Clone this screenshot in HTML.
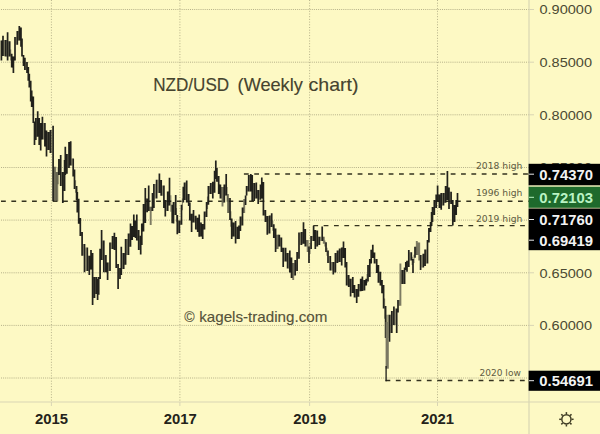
<!DOCTYPE html>
<html lang="en"><head><meta charset="utf-8"><title>NZD/USD (Weekly chart)</title>
<style>html,body{margin:0;padding:0;background:#fdf9c4;}body{width:600px;height:434px;overflow:hidden}</style>
</head><body>
<svg width="600" height="434" viewBox="0 0 600 434" style="display:block"><rect width="600" height="434" fill="#fdf9c4"/><line x1="1" x2="529" y1="9.5" y2="9.5" stroke="#b5b189" stroke-width="1" stroke-dasharray="1 1.1"/><line x1="1" x2="529" y1="62.2" y2="62.2" stroke="#b5b189" stroke-width="1" stroke-dasharray="1 1.1"/><line x1="1" x2="529" y1="114.8" y2="114.8" stroke="#b5b189" stroke-width="1" stroke-dasharray="1 1.1"/><line x1="1" x2="529" y1="167.5" y2="167.5" stroke="#b5b189" stroke-width="1" stroke-dasharray="1 1.1"/><line x1="1" x2="529" y1="220.1" y2="220.1" stroke="#b5b189" stroke-width="1" stroke-dasharray="1 1.1"/><line x1="1" x2="529" y1="272.8" y2="272.8" stroke="#b5b189" stroke-width="1" stroke-dasharray="1 1.1"/><line x1="1" x2="529" y1="325.4" y2="325.4" stroke="#b5b189" stroke-width="1" stroke-dasharray="1 1.1"/><line x1="1" x2="529" y1="378.0" y2="378.0" stroke="#b5b189" stroke-width="1" stroke-dasharray="1 1.1"/><line x1="51.4" x2="51.4" y1="0" y2="402" stroke="#b5b189" stroke-width="1" stroke-dasharray="1 1.7"/><line x1="179.9" x2="179.9" y1="0" y2="402" stroke="#b5b189" stroke-width="1" stroke-dasharray="1 1.7"/><line x1="309.6" x2="309.6" y1="0" y2="402" stroke="#b5b189" stroke-width="1" stroke-dasharray="1 1.7"/><line x1="437.5" x2="437.5" y1="0" y2="402" stroke="#b5b189" stroke-width="1" stroke-dasharray="1 1.7"/><line x1="529" x2="529" y1="0" y2="434" stroke="#d9d5b4" stroke-width="1.2"/><line x1="0" x2="600" y1="402" y2="402" stroke="#d9d5b4" stroke-width="1.2"/><line x1="529" x2="534" y1="9.5" y2="9.5" stroke="#d9d5b4" stroke-width="1"/><line x1="529" x2="534" y1="62.2" y2="62.2" stroke="#d9d5b4" stroke-width="1"/><line x1="529" x2="534" y1="114.8" y2="114.8" stroke="#d9d5b4" stroke-width="1"/><line x1="529" x2="534" y1="167.5" y2="167.5" stroke="#d9d5b4" stroke-width="1"/><line x1="529" x2="534" y1="220.1" y2="220.1" stroke="#d9d5b4" stroke-width="1"/><line x1="529" x2="534" y1="272.8" y2="272.8" stroke="#d9d5b4" stroke-width="1"/><line x1="529" x2="534" y1="325.4" y2="325.4" stroke="#d9d5b4" stroke-width="1"/><line x1="529" x2="534" y1="378.0" y2="378.0" stroke="#d9d5b4" stroke-width="1"/><line x1="51.4" x2="51.4" y1="402" y2="406" stroke="#d9d5b4" stroke-width="1"/><line x1="179.9" x2="179.9" y1="402" y2="406" stroke="#d9d5b4" stroke-width="1"/><line x1="309.6" x2="309.6" y1="402" y2="406" stroke="#d9d5b4" stroke-width="1"/><line x1="437.5" x2="437.5" y1="402" y2="406" stroke="#d9d5b4" stroke-width="1"/><path d="M1.00 201.3H5.80M11.34 201.3H16.14M21.68 201.3H26.48M32.02 201.3H36.82M42.36 201.3H47.16M52.70 201.3H57.50M63.04 201.3H67.84M73.38 201.3H78.18M83.72 201.3H88.52M94.06 201.3H98.86M104.40 201.3H109.20M114.74 201.3H119.54M125.08 201.3H129.88M135.42 201.3H140.22M145.76 201.3H150.56M156.10 201.3H160.90M166.44 201.3H171.24M176.78 201.3H181.58M187.12 201.3H191.92M197.46 201.3H202.26M207.80 201.3H212.60M218.14 201.3H222.94M228.48 201.3H233.28M238.82 201.3H243.62M249.16 201.3H253.96M259.50 201.3H264.30M269.84 201.3H274.64M280.18 201.3H284.98M290.52 201.3H295.32M300.86 201.3H305.66M311.20 201.3H316.00M321.54 201.3H326.34M331.88 201.3H336.68M342.22 201.3H347.02M352.56 201.3H357.36M362.90 201.3H367.70M373.24 201.3H378.04M383.58 201.3H388.38M393.92 201.3H398.72M404.26 201.3H409.06M414.60 201.3H419.40M424.94 201.3H429.74M435.28 201.3H440.08M445.62 201.3H450.42M455.96 201.3H460.76M466.30 201.3H471.10M476.64 201.3H481.44M486.98 201.3H491.78M497.32 201.3H502.12M507.66 201.3H512.46M518.00 201.3H522.80M528.34 201.3H529.00" stroke="#34331f" stroke-width="1.45" fill="none"/><path d="M243.90 174.0H248.70M254.24 174.0H259.04M264.58 174.0H269.38M274.92 174.0H279.72M285.26 174.0H290.06M295.60 174.0H300.40M305.94 174.0H310.74M316.28 174.0H321.08M326.62 174.0H331.42M336.96 174.0H341.76M347.30 174.0H352.10M357.64 174.0H362.44M367.98 174.0H372.78M378.32 174.0H383.12M388.66 174.0H393.46M399.00 174.0H403.80M409.34 174.0H414.14M419.68 174.0H424.48M430.02 174.0H434.82M440.36 174.0H445.16M450.70 174.0H455.50M461.04 174.0H465.84M471.38 174.0H476.18M481.72 174.0H486.52M492.06 174.0H496.86M502.40 174.0H507.20M512.74 174.0H517.54M523.08 174.0H527.88" stroke="#34331f" stroke-width="1.45" fill="none"/><path d="M313.30 225.6H318.10M323.64 225.6H328.44M333.98 225.6H338.78M344.32 225.6H349.12M354.66 225.6H359.46M365.00 225.6H369.80M375.34 225.6H380.14M385.68 225.6H390.48M396.02 225.6H400.82M406.36 225.6H411.16M416.70 225.6H421.50M427.04 225.6H431.84M437.38 225.6H442.18M447.72 225.6H452.52M458.06 225.6H462.86M468.40 225.6H473.20M478.74 225.6H483.54M489.08 225.6H493.88M499.42 225.6H504.22M509.76 225.6H514.56M520.10 225.6H524.90" stroke="#34331f" stroke-width="1.45" fill="none"/><path d="M385.50 380.5H390.30M395.84 380.5H400.64M406.18 380.5H410.98M416.52 380.5H421.32M426.86 380.5H431.66M437.20 380.5H442.00M447.54 380.5H452.34M457.88 380.5H462.68M468.22 380.5H473.02M478.56 380.5H483.36M488.90 380.5H493.70M499.24 380.5H504.04M509.58 380.5H514.38M519.92 380.5H524.72" stroke="#34331f" stroke-width="1.45" fill="none"/><path d="M55.20 166.8V201.3M57.30 172.0V201.3M150.70 206.8V225.0M222.50 187.0V206.6M228.00 194.0V213.0M244.20 199.0V213.0M277.70 234.7V249.0M293.20 263.0V280.0M307.70 240.0V252.0M323.80 236.8V243.7M400.40 263.5V305.7M416.80 241.0V255.0M419.20 242.6V260.6" stroke="#6f6d58" stroke-width="1.9" fill="none" opacity="0.9"/><path d="M2.20 40.6V56.0M4.25 40.0V56.0M6.55 40.0V56.5M8.65 41.3V56.5M10.70 49.4V60.4M12.55 56.5V67.5M14.20 56.5V60.6M16.15 37.0V44.7M18.30 30.9V40.6M20.15 27.4V40.6M25.95 62.0V70.0M32.50 96.6V107.0M36.75 118.0V136.8M41.55 123.0V139.5M43.65 123.0V139.5M45.70 130.6V146.5M47.50 132.0V150.0M49.45 132.0V150.0M51.75 130.0V153.0M54.15 166.8V201.0M56.25 172.0V201.3M58.10 167.4V184.2M59.80 159.0V175.0M61.75 172.0V186.0M63.70 172.0V191.0M66.10 154.0V173.7M67.95 154.0V168.0M69.85 141.9V165.4M71.95 158.5V165.4M75.55 180.2V192.8M79.50 218.0V223.7M81.20 232.0V236.0M83.30 244.0V255.7M85.90 247.4V271.0M88.30 255.7V271.0M90.15 255.7V269.5M91.80 253.0V269.5M93.55 277.0V298.0M95.50 277.0V294.0M102.70 240.5V260.0M104.85 255.0V272.3M106.75 262.6V272.3M108.80 262.6V271.0M111.25 242.6V249.0M113.45 236.0V249.0M115.30 237.0V250.0M117.15 264.0V268.0M119.05 268.0V279.0M122.50 253.0V269.0M124.65 253.0V264.7M126.57 239.0V255.0M127.53 239.0V255.0M129.50 233.5V246.8M131.35 226.0V240.0M133.00 226.0V237.0M134.65 220.6V237.0M137.75 230.0V240.6M139.70 235.7V250.0M142.65 223.5V231.6M144.40 204.0V223.0M146.25 198.5V212.3M149.70 206.8V211.0M151.60 206.8V211.0M155.25 184.0V198.5M158.00 179.8V193.0M160.30 180.0V193.0M162.55 185.4V195.7M166.50 200.0V211.0M168.60 191.6V205.4M170.85 195.3V211.7M174.60 202.0V215.0M176.50 208.0V221.8M178.35 220.6V233.0M180.45 220.6V224.7M182.40 198.4V210.3M185.60 182.6V200.0M187.70 194.0V202.6M190.70 213.7V220.6M192.55 213.7V222.6M194.65 215.7V222.6M196.75 217.8V229.5M200.10 222.6V236.5M201.85 224.0V236.5M203.60 224.0V229.5M205.55 211.6V217.0M207.50 196.4V209.0M209.55 186.0V194.0M211.75 183.0V194.0M213.70 181.8V192.8M217.80 176.0V181.8M219.55 184.5V194.0M221.45 187.0V198.4M223.40 187.0V202.5M225.25 184.5V195.6M227.10 187.0V201.7M229.00 198.0V213.0M230.85 211.3V226.7M232.60 222.6V236.5M234.55 222.6V236.5M236.65 226.8V239.0M241.45 216.4V225.4M243.35 207.4V213.0M247.65 186.0V191.5M249.75 174.9V191.5M253.20 183.0V201.0M255.25 183.0V198.4M257.25 190.0V198.4M259.35 190.0V199.7M262.60 182.0V198.4M264.40 210.0V215.4M266.35 216.0V222.0M268.45 216.0V233.5M270.65 215.5V227.0M272.75 220.5V230.8M274.70 228.5V238.0M276.65 234.7V249.0M278.50 234.7V246.5M280.35 237.5V246.5M282.30 247.8V252.0M284.40 247.8V261.6M286.60 253.0V261.6M288.70 253.0V268.5M290.65 257.4V272.6M292.35 263.0V278.0M294.20 263.0V275.4M296.15 260.0V271.0M298.05 252.0V258.8M300.25 232.6V245.0M302.50 232.0V243.7M304.40 229.0V243.7M306.50 240.0V246.5M310.05 242.8V253.9M312.35 236.0V241.0M314.45 230.0V241.0M316.30 230.6V246.5M318.35 236.8V245.0M320.80 236.8V241.0M323.00 236.8V241.0M324.90 240.4V246.6M327.00 247.7V255.8M329.15 256.0V263.0M331.30 262.0V270.4M332.30 262.0V270.4M334.35 262.0V272.4M336.45 253.0V263.0M338.55 250.5V262.0M340.65 248.5V262.0M342.60 247.6V258.0M344.35 248.0V258.0M347.65 275.0V285.6M349.65 278.7V287.0M351.70 278.7V293.0M353.65 285.0V293.0M355.60 289.0V297.4M357.60 289.0V296.7M359.60 284.0V291.2M361.55 278.7V291.0M363.45 280.0V290.5M365.35 280.0V285.6M367.10 273.9V282.9M368.90 265.0V277.0M372.00 249.7V258.0M373.65 252.4V258.0M375.60 259.0V263.5M377.55 265.0V273.0M379.40 271.8V282.8M381.20 280.0V285.6M382.80 285.0V293.3M384.60 298.6V318.8M386.90 314.7V338.0M388.20 314.7V338.0M390.65 314.7V333.0M392.85 311.0V325.0M395.30 308.5V325.0M399.20 300.0V305.7M401.45 270.0V284.0M403.55 270.0V284.0M407.90 260.7V267.0M410.05 252.3V260.6M412.15 256.7V264.9M414.00 254.7V263.1M415.90 246.8V255.0M418.00 242.6V255.0M421.95 255.0V267.5M424.20 253.7V266.0M426.30 249.5V263.4M429.75 228.0V232.0M433.40 207.0V215.0M435.25 200.0V208.0M438.50 194.5V201.4M440.30 194.5V208.0M442.35 193.0V205.6M444.55 193.0V202.8M446.50 186.0V200.0M448.20 187.6V200.0M450.05 191.8V204.0M451.95 200.0V204.0M453.70 205.0V222.0M455.40 205.0V215.0" stroke="#1b1b17" stroke-width="1.1" fill="none" opacity="0.5"/><path d="M1.40 40.6V60.6M3.00 35.7V56.0M5.50 40.0V56.5M7.60 32.3V60.6M9.70 41.3V56.5M11.70 53.7V67.5M13.40 56.5V73.0M15.00 37.0V60.6M17.30 30.9V44.7M19.30 26.0V40.6M21.00 27.4V46.8M22.00 38.5V56.5M23.50 55.0V66.0M24.90 57.8V70.0M27.00 62.0V73.0M28.30 67.0V80.7M29.30 73.8V87.6M30.70 80.7V101.5M31.70 90.4V107.0M33.30 96.6V123.0M34.50 121.6V145.0M35.80 118.0V140.0M37.70 111.2V136.8M39.20 118.0V145.0M40.70 123.0V150.6M42.40 116.7V139.5M44.90 123.0V146.5M46.50 130.6V156.4M48.50 132.0V150.0M50.40 130.0V153.0M53.10 125.7V201.0M58.90 159.0V175.0M60.70 155.0V186.0M62.80 172.0V203.0M64.60 160.0V191.0M65.30 146.7V175.0M66.90 154.0V173.7M69.00 141.9V168.0M70.70 141.2V165.4M73.20 158.5V176.5M74.50 169.5V189.0M76.60 186.0V200.0M77.30 192.0V212.6M78.70 198.8V223.7M80.30 218.0V236.0M82.10 232.0V255.7M84.50 244.0V272.3M87.30 247.4V271.0M89.30 255.7V275.0M91.00 250.0V269.5M92.60 253.0V305.0M94.50 277.0V298.0M96.50 277.0V294.0M97.60 279.0V300.0M98.70 277.0V294.7M100.10 248.8V279.0M101.60 230.0V260.0M103.80 240.5V272.3M105.90 255.0V272.3M107.60 262.6V280.0M110.00 242.6V271.0M112.50 236.0V249.0M114.40 232.7V250.0M116.20 237.0V268.0M118.10 264.0V289.0M120.00 268.0V279.0M121.30 246.7V275.0M123.70 253.0V269.0M125.60 239.0V264.7M128.50 233.5V255.0M130.50 223.6V246.8M132.20 226.0V240.0M133.80 214.4V237.0M135.50 220.6V238.0M136.80 214.4V240.6M138.70 230.0V250.0M140.70 235.7V254.4M141.80 223.5V245.0M143.50 204.0V231.6M145.30 188.0V223.0M147.20 198.5V212.3M148.70 185.4V211.0M152.50 193.0V211.0M153.90 184.0V208.0M156.60 179.8V198.5M159.40 173.5V193.0M161.20 180.0V195.7M163.90 185.4V208.0M165.30 200.0V216.5M167.70 191.6V211.0M169.50 177.8V205.4M172.20 204.7V223.3M173.50 202.0V223.4M175.70 195.0V215.0M177.30 215.0V234.3M179.40 220.6V233.0M181.50 204.7V224.7M183.30 186.7V202.6M184.50 182.6V200.0M186.70 180.5V202.6M188.70 194.0V206.0M189.80 202.6V220.6M191.60 213.7V232.0M193.50 210.0V222.6M195.80 215.7V229.5M197.70 217.8V232.0M199.20 214.6V236.7M201.00 222.6V236.5M202.70 224.0V239.0M204.50 211.6V229.5M206.60 202.0V217.0M208.40 186.0V204.7M210.70 183.0V194.0M212.80 181.8V198.4M214.60 170.7V192.8M215.80 160.4V179.0M216.90 168.0V181.8M218.70 176.0V194.0M220.40 184.5V198.4M224.30 184.5V202.5M226.20 174.0V195.6M230.00 198.0V220.0M231.70 218.5V239.0M233.50 222.6V236.5M235.60 221.0V243.4M237.70 226.8V239.0M239.00 225.4V239.0M240.40 216.4V231.0M242.50 207.4V225.4M245.60 195.6V205.0M246.60 186.0V195.6M248.70 174.9V191.5M250.80 174.0V191.5M252.20 174.9V201.0M254.20 183.0V201.0M256.30 182.5V198.4M258.20 190.0V204.0M260.50 184.5V199.7M261.80 177.6V198.4M263.40 182.0V215.4M265.40 210.0V222.0M267.30 216.0V234.8M269.60 215.5V233.5M271.70 213.3V227.0M273.80 224.3V238.0M275.60 228.5V252.0M279.30 234.7V246.5M281.40 237.5V252.0M283.20 247.8V267.0M285.60 247.8V261.6M287.60 253.0V268.5M289.80 250.5V272.6M291.50 257.4V278.0M295.20 260.0V275.4M297.10 252.0V271.0M299.00 232.6V258.8M301.50 232.0V245.0M303.50 222.3V243.7M305.30 229.0V246.5M309.00 246.5V263.0M311.10 236.0V249.0M313.60 225.7V241.0M315.30 230.0V249.0M317.30 230.6V246.5M319.40 236.8V245.0M322.20 226.4V241.0M326.00 242.3V252.0M328.00 250.6V263.0M330.30 256.0V270.4M333.30 262.0V274.6M335.40 253.0V272.4M337.50 250.5V263.0M339.60 248.5V262.0M341.70 247.6V265.6M343.50 241.4V258.0M345.20 248.0V267.6M346.60 262.0V285.6M348.70 275.0V287.0M350.60 278.7V296.6M352.80 277.0V293.0M354.50 285.0V297.4M356.70 289.0V303.0M358.50 284.0V296.7M360.70 278.7V291.2M362.40 276.6V291.0M364.50 280.0V290.5M366.20 278.7V285.6M368.00 265.0V281.5M369.80 259.0V277.0M371.20 249.7V263.5M372.80 244.8V258.0M374.50 252.4V263.5M376.70 259.0V273.0M378.40 265.0V282.8M380.40 271.8V285.6M382.00 280.0V293.3M383.60 285.0V308.5M385.60 306.0V338.0M389.50 314.7V341.7M391.80 311.0V333.0M393.90 306.4V325.0M396.70 308.5V333.0M398.00 300.0V312.6M402.50 270.0V284.0M404.60 267.6V284.0M405.80 262.0V270.0M407.00 260.7V271.8M408.80 250.0V267.0M411.30 252.3V260.6M413.00 259.0V273.0M415.00 246.8V257.8M420.60 255.0V270.0M423.30 253.7V267.5M425.10 249.5V266.0M427.50 240.0V263.4M428.90 228.0V242.6M430.60 222.0V232.0M431.60 212.0V226.0M432.50 207.0V222.0M434.30 200.0V215.0M436.20 194.5V208.0M437.60 185.5V201.4M439.40 194.5V208.0M441.20 193.0V209.7M443.50 193.0V205.6M445.60 186.0V202.8M447.40 171.0V200.0M449.00 187.6V209.0M451.10 191.8V204.0M452.80 200.0V225.6M454.60 205.0V222.0M456.20 200.0V215.0M457.50 193.0V207.0" stroke="#1b1b17" stroke-width="1.7" fill="none" opacity="0.97"/><path d="M387.2 322V368.7" stroke="#7a7862" stroke-width="3.2" fill="none"/><path d="M386.1 366V381.2" stroke="#1b1b17" stroke-width="1.3" fill="none"/><text x="539.5" y="14.3" font-family="Liberation Sans, Arial, sans-serif" font-size="13.5" fill="#4b4932" textLength="52.5" lengthAdjust="spacingAndGlyphs">0.90000</text><text x="539.5" y="67.0" font-family="Liberation Sans, Arial, sans-serif" font-size="13.5" fill="#4b4932" textLength="52.5" lengthAdjust="spacingAndGlyphs">0.85000</text><text x="539.5" y="119.6" font-family="Liberation Sans, Arial, sans-serif" font-size="13.5" fill="#4b4932" textLength="52.5" lengthAdjust="spacingAndGlyphs">0.80000</text><text x="539.5" y="172.3" font-family="Liberation Sans, Arial, sans-serif" font-size="13.5" fill="#4b4932" textLength="52.5" lengthAdjust="spacingAndGlyphs">0.75000</text><text x="539.5" y="224.9" font-family="Liberation Sans, Arial, sans-serif" font-size="13.5" fill="#4b4932" textLength="52.5" lengthAdjust="spacingAndGlyphs">0.70000</text><text x="539.5" y="277.6" font-family="Liberation Sans, Arial, sans-serif" font-size="13.5" fill="#4b4932" textLength="52.5" lengthAdjust="spacingAndGlyphs">0.65000</text><text x="539.5" y="330.2" font-family="Liberation Sans, Arial, sans-serif" font-size="13.5" fill="#4b4932" textLength="52.5" lengthAdjust="spacingAndGlyphs">0.60000</text><text x="539.5" y="382.8" font-family="Liberation Sans, Arial, sans-serif" font-size="13.5" fill="#4b4932" textLength="52.5" lengthAdjust="spacingAndGlyphs">0.55000</text><rect x="528.6" y="163.8" width="71.39999999999998" height="21.5" fill="#000"/><rect x="528.6" y="186.7" width="71.39999999999998" height="21.1" fill="#1e6a2c"/><rect x="528.6" y="208.5" width="71.39999999999998" height="41.7" fill="#000"/><rect x="528.6" y="370.7" width="71.39999999999998" height="20.1" fill="#000"/><line x1="529" x2="534" y1="174.2" y2="174.2" stroke="#e8e8e8" stroke-width="1"/><text x="539.3" y="179.5" font-family="Liberation Sans, Arial, sans-serif" font-weight="bold" font-size="14.4" fill="#f3f3f3" textLength="53.6" lengthAdjust="spacingAndGlyphs">0.74370</text><line x1="529" x2="534" y1="197.3" y2="197.3" stroke="#b9f3c4" stroke-width="1"/><text x="539.3" y="202.6" font-family="Liberation Sans, Arial, sans-serif" font-weight="bold" font-size="14.4" fill="#b9f3c4" textLength="53.6" lengthAdjust="spacingAndGlyphs">0.72103</text><line x1="529" x2="534" y1="219.5" y2="219.5" stroke="#e8e8e8" stroke-width="1"/><text x="539.3" y="224.8" font-family="Liberation Sans, Arial, sans-serif" font-weight="bold" font-size="14.4" fill="#f3f3f3" textLength="53.6" lengthAdjust="spacingAndGlyphs">0.71760</text><line x1="529" x2="534" y1="240.2" y2="240.2" stroke="#e8e8e8" stroke-width="1"/><text x="539.3" y="245.5" font-family="Liberation Sans, Arial, sans-serif" font-weight="bold" font-size="14.4" fill="#f3f3f3" textLength="53.6" lengthAdjust="spacingAndGlyphs">0.69419</text><line x1="529" x2="534" y1="380.7" y2="380.7" stroke="#e8e8e8" stroke-width="1"/><text x="539.3" y="386.0" font-family="Liberation Sans, Arial, sans-serif" font-weight="bold" font-size="14.4" fill="#f3f3f3" textLength="53.6" lengthAdjust="spacingAndGlyphs">0.54691</text><text x="476" y="168.8" font-family="DejaVu Sans, Verdana, sans-serif" font-size="9" fill="#5f5c42" textLength="46.4" lengthAdjust="spacingAndGlyphs">2018 high</text><text x="476" y="196.0" font-family="DejaVu Sans, Verdana, sans-serif" font-size="9" fill="#5f5c42" textLength="46.4" lengthAdjust="spacingAndGlyphs">1996 high</text><text x="476" y="221.6" font-family="DejaVu Sans, Verdana, sans-serif" font-size="9" fill="#5f5c42" textLength="46.4" lengthAdjust="spacingAndGlyphs">2019 high</text><text x="479.5" y="376.2" font-family="DejaVu Sans, Verdana, sans-serif" font-size="9" fill="#5f5c42" textLength="41.3" lengthAdjust="spacingAndGlyphs">2020 low</text><text y="90.7" font-family="Liberation Sans, Arial, sans-serif" font-size="19" fill="#45432e" stroke="#45432e" stroke-width="0.15"><tspan x="153.2" textLength="76" lengthAdjust="spacingAndGlyphs">NZD/USD</tspan> <tspan x="237.6" textLength="65.2" lengthAdjust="spacingAndGlyphs">(Weekly</tspan> <tspan x="308.6" textLength="49.9" lengthAdjust="spacingAndGlyphs">chart)</tspan></text><text y="321.9" font-family="Liberation Sans, Arial, sans-serif" font-size="15" fill="#55523a" stroke="#55523a" stroke-width="0.15"><tspan x="184.2" textLength="10.4" lengthAdjust="spacingAndGlyphs">©</tspan> <tspan x="199.2" textLength="128.1" lengthAdjust="spacingAndGlyphs">kagels-trading.com</tspan></text><text x="35.1" y="423.6" font-family="Liberation Sans, Arial, sans-serif" font-weight="bold" font-size="14" fill="#24231a" textLength="33" lengthAdjust="spacingAndGlyphs">2015</text><text x="163.7" y="423.6" font-family="Liberation Sans, Arial, sans-serif" font-weight="bold" font-size="14" fill="#24231a" textLength="33" lengthAdjust="spacingAndGlyphs">2017</text><text x="293.3" y="423.6" font-family="Liberation Sans, Arial, sans-serif" font-weight="bold" font-size="14" fill="#24231a" textLength="33" lengthAdjust="spacingAndGlyphs">2019</text><text x="421.1" y="423.6" font-family="Liberation Sans, Arial, sans-serif" font-weight="bold" font-size="14" fill="#24231a" textLength="33" lengthAdjust="spacingAndGlyphs">2021</text><circle cx="566.4" cy="419.3" r="4.6" fill="none" stroke="#3f3c24" stroke-width="1.5"/><line x1="571.60" y1="419.30" x2="573.60" y2="419.30" stroke="#3f3c24" stroke-width="1.5"/><line x1="570.08" y1="422.98" x2="571.49" y2="424.39" stroke="#3f3c24" stroke-width="1.5"/><line x1="566.40" y1="424.50" x2="566.40" y2="426.50" stroke="#3f3c24" stroke-width="1.5"/><line x1="562.72" y1="422.98" x2="561.31" y2="424.39" stroke="#3f3c24" stroke-width="1.5"/><line x1="561.20" y1="419.30" x2="559.20" y2="419.30" stroke="#3f3c24" stroke-width="1.5"/><line x1="562.72" y1="415.62" x2="561.31" y2="414.21" stroke="#3f3c24" stroke-width="1.5"/><line x1="566.40" y1="414.10" x2="566.40" y2="412.10" stroke="#3f3c24" stroke-width="1.5"/><line x1="570.08" y1="415.62" x2="571.49" y2="414.21" stroke="#3f3c24" stroke-width="1.5"/></svg>
</body></html>
